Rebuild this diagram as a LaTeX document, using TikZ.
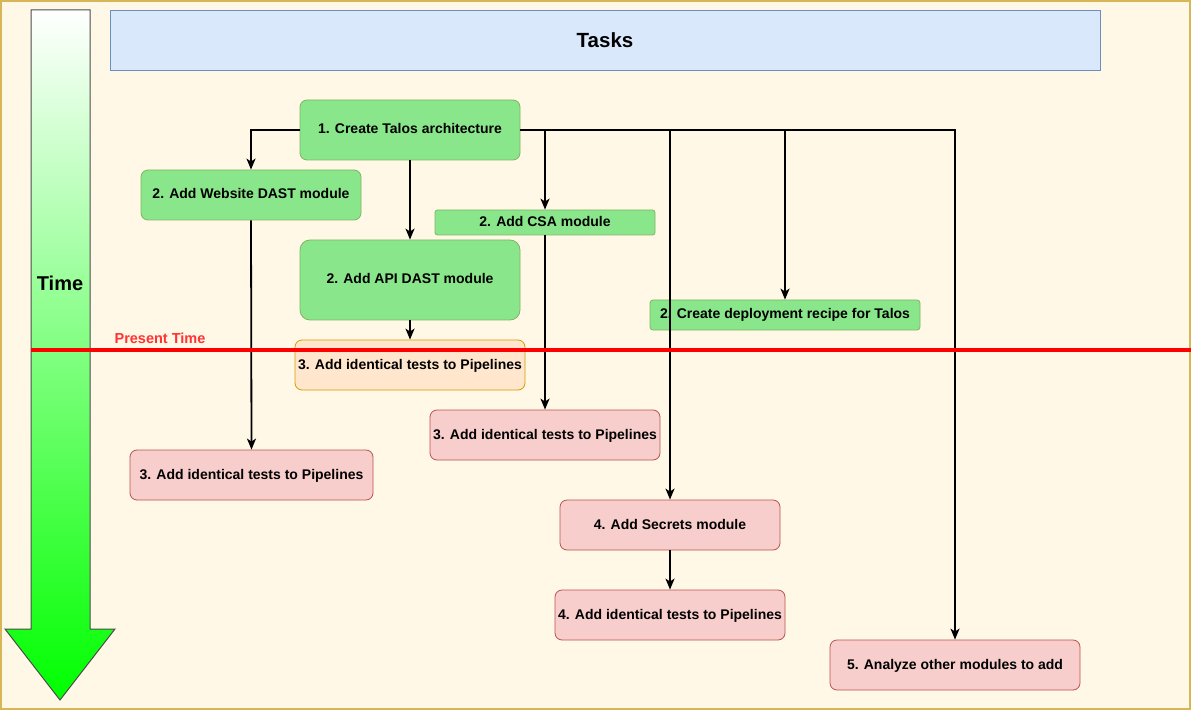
\documentclass[tikz,border=0pt]{standalone}
\usepackage{fontspec}
\setmainfont{Liberation Sans}
\usetikzlibrary{arrows.meta}
\definecolor{bgfill}{HTML}{FFF8E6}
\definecolor{bgline}{HTML}{D6B656}
\definecolor{gfill}{HTML}{89E68A}
\definecolor{gline}{HTML}{82B366}
\definecolor{rfill}{HTML}{F8CECC}
\definecolor{rline}{HTML}{B85450}
\definecolor{ofill}{HTML}{FFE6CC}
\definecolor{oline}{HTML}{D79B00}
\definecolor{bfill}{HTML}{DAE8FC}
\definecolor{bline}{HTML}{6C8EBF}
\definecolor{tgreen}{HTML}{00FF00}
\definecolor{ptred}{HTML}{FF3333}
\tikzset{
  box/.style={draw, line width=0.8pt, rounded corners=7pt, inner sep=0pt, font=\fontsize{14}{16}\selectfont\bfseries, text=black, text depth=0pt, text height=8pt},
  gbox/.style={box, fill=gfill, draw=gline},
  rbox/.style={box, fill=rfill, draw=rline},
  obox/.style={box, fill=ofill, draw=oline},
  conn/.style={draw=black, line width=1.8pt, -{Stealth[length=11pt,width=9pt,inset=3pt]}},
}
\begin{document}
\begin{tikzpicture}[x=1pt,y=-1pt]
\useasboundingbox (0,0) rectangle (1194,711);
\fill[bgfill, draw=bgline, line width=1.2pt] (1,1) rectangle (1190,709);
% time arrow
\shade[top color=white, bottom color=tgreen, draw=black!70, line width=1pt]
  (31,10) -- (90,10) -- (90,629) -- (115,629) -- (60,700) -- (5,629) -- (31,629) -- cycle;
\node[font=\fontsize{20}{22}\selectfont\bfseries] (time) at (60,283) {Time};
% tasks header
\node[draw=bline, fill=bfill, line width=0.8pt, minimum width=990pt, minimum height=60pt, inner sep=0pt, font=\fontsize{20.5}{22}\selectfont\bfseries] (tasks) at (605,40) {Tasks};
% nodes
\node[gbox, minimum width=220pt, minimum height=60pt] (n1) at (410,130) {1. Create Talos architecture};
\node[gbox, minimum width=220pt, minimum height=50pt] (wd) at (251,195) {2. Add Website DAST module};
\node[gbox, minimum width=220pt, minimum height=80pt, rounded corners=10pt] (api) at (410,280) {2. Add API DAST module};
\node[gbox, minimum width=220pt, minimum height=25pt, rounded corners=2.5pt] (csa) at (545,222.5) {2. Add CSA module};
\node[gbox, minimum width=270pt, minimum height=30pt, rounded corners=3pt] (dep) at (785,315) {2. Create deployment recipe for Talos};
\node[obox, minimum width=230pt, minimum height=50pt] (opipe) at (410,365) {3. Add identical tests to Pipelines};
\node[rbox, minimum width=243pt, minimum height=50pt] (lpipe) at (251.5,475) {3. Add identical tests to Pipelines};
\node[rbox, minimum width=230pt, minimum height=50pt] (cpipe) at (545,435) {3. Add identical tests to Pipelines};
\node[rbox, minimum width=220pt, minimum height=50pt] (sec) at (670,525) {4. Add Secrets module};
\node[rbox, minimum width=230pt, minimum height=50pt] (spipe) at (670,615) {4. Add identical tests to Pipelines};
\node[rbox, minimum width=250pt, minimum height=50pt] (ana) at (955,665) {5. Analyze other modules to add};
% connectors
\draw[conn] (n1.west) -| (wd.north);
\draw[conn] (n1.south) -- (api.north);
\draw[conn] (n1.east) -| (csa.north);
\draw[conn] (n1.east) -| (sec.north);
\draw[conn] (n1.east) -| (dep.north);
\draw[conn] (n1.east) -| (ana.north);
\draw[conn] (wd.south) -- (lpipe.north);
\draw[conn] (api.south) -- (opipe.north);
\draw[conn] (csa.south) -- (cpipe.north);
\draw[conn] (sec.south) -- (spipe.north);
% present time line
\coordinate (pl) at (31,350);
\coordinate (pr) at (1191,350);
\draw[red, line width=4pt] (pl) -- (pr);
\node[text=ptred, font=\fontsize{14.5}{16}\selectfont\bfseries] (pt) at (160,338.5) {Present Time};
\end{tikzpicture}
\end{document}
